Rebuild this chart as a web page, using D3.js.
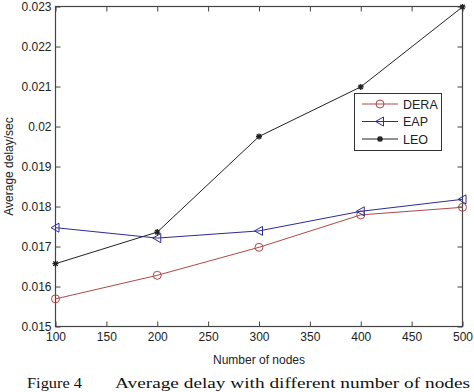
<!DOCTYPE html>
<html><head><meta charset="utf-8">
<script src="https://cdn.jsdelivr.net/npm/d3@7"></script>
<style>body{margin:0;background:#fff}svg{display:block}</style>
</head><body>
<svg id="c" width="474" height="392"></svg>
<script>
const nodes = [100, 200, 300, 400, 500];
const dera = [0.01569, 0.01628, 0.01698, 0.01779, 0.01798];
const eap  = [0.01747, 0.01721, 0.01739, 0.01788, 0.01818];
const leo  = [0.01657, 0.01736, 0.01975, 0.02099, 0.02299];
const xTicks = [100, 150, 200, 250, 300, 350, 400, 450, 500];
const yTicks = [0.015, 0.016, 0.017, 0.018, 0.019, 0.02, 0.021, 0.022, 0.023];
const seriesNames = ["DERA", "EAP", "LEO"];
const xLabel = "Number of nodes";
const yLabel = "Average delay/sec";
const captionLead = "Figure 4";
const captionText = "Average delay with different number of nodes";

const svg = d3.select("#c");
const L = 55.5, R = 462.5, T = 6.5, B = 326.5;
const x = d3.scaleLinear().domain([100, 500]).range([L, R]);
const y = d3.scaleLinear().domain([0.015, 0.023]).range([B, T]);
const axisCol = "#444";
const font = "Arial, 'Liberation Sans', sans-serif";

function styleAxis(g, hideText) {
  g.select(".domain").remove();
  g.selectAll("line").attr("stroke", axisCol);
  g.selectAll("text").attr("fill", "#222").style("font-family", font).style("font-size", "12px");
  if (hideText) g.selectAll("text").remove();
}
const fmtY = d => d3.format(".3f")(d).replace(/0+$/, "").replace(/\.$/, "");
svg.append("g").attr("transform", `translate(0,${B})`)
  .call(d3.axisBottom(x).tickValues(xTicks).tickSize(-5).tickPadding(6)).call(g => styleAxis(g));
svg.append("g").attr("transform", `translate(0,${T})`)
  .call(d3.axisTop(x).tickValues(xTicks).tickSize(-5)).call(g => styleAxis(g, true));
svg.append("g").attr("transform", `translate(${L},0)`)
  .call(d3.axisLeft(y).tickValues(yTicks).tickSize(-5).tickPadding(4).tickFormat(fmtY)).call(g => styleAxis(g));
svg.append("g").attr("transform", `translate(${R},0)`)
  .call(d3.axisRight(y).tickValues(yTicks).tickSize(-5)).call(g => styleAxis(g, true));
svg.append("rect").attr("x", L).attr("y", T).attr("width", R - L).attr("height", B - T)
  .attr("fill", "none").attr("stroke", axisCol).attr("stroke-width", 1.2);

const colors = ["#b04848", "#2c2c94", "#222"];
const data = [dera, eap, leo];
const line = d3.line().x((d, i) => x(nodes[i])).y(d => y(d));

function marker(g, k, cx, cy) {
  const c = colors[k];
  if (k === 0) {
    g.append("circle").attr("cx", cx).attr("cy", cy).attr("r", 4).attr("fill", "none").attr("stroke", c).attr("stroke-width", 1);
  } else if (k === 1) {
    g.append("path").attr("d", `M${cx - 4.5},${cy} L${cx + 3.5},${cy - 4.5} L${cx + 3.5},${cy + 4.5} Z`)
      .attr("fill", "none").attr("stroke", c).attr("stroke-width", 1);
  } else {
    const s = 3;
    g.append("path").attr("d", `M${cx - s},${cy} L${cx + s},${cy} M${cx},${cy - s} L${cx},${cy + s} M${cx - 2.2},${cy - 2.2} L${cx + 2.2},${cy + 2.2} M${cx - 2.2},${cy + 2.2} L${cx + 2.2},${cy - 2.2}`)
      .attr("stroke", c).attr("stroke-width", 1.3);
  }
}

data.forEach((vals, k) => {
  svg.append("path").datum(vals).attr("d", line).attr("fill", "none").attr("stroke", colors[k]).attr("stroke-width", 1);
  const g = svg.append("g");
  vals.forEach((v, i) => marker(g, k, x(nodes[i]), y(v)));
});

// legend
const lg = svg.append("g");
lg.append("rect").attr("x", 354.5).attr("y", 93.5).attr("width", 87).attr("height", 57)
  .attr("fill", "#fff").attr("stroke", "#333").attr("stroke-width", 1);
seriesNames.forEach((n, k) => {
  const yy = 104 + k * 17.5;
  lg.append("line").attr("x1", 362).attr("x2", 398).attr("y1", yy).attr("y2", yy).attr("stroke", colors[k]).attr("stroke-width", 1);
  marker(lg, k, 380, yy);
  lg.append("text").attr("x", 403).attr("y", yy + 4.5).text(n).attr("fill", "#222")
    .style("font-family", font).style("font-size", "12.5px");
});

svg.append("text").attr("x", (L + R) / 2).attr("y", 364).attr("text-anchor", "middle").text(xLabel)
  .attr("fill", "#222").style("font-family", font).style("font-size", "12px");
svg.append("text").attr("transform", `translate(13,${(T + B) / 2}) rotate(-90)`).attr("text-anchor", "middle").text(yLabel)
  .attr("fill", "#222").style("font-family", font).style("font-size", "12px");
const capFont = "'Times New Roman', 'Liberation Serif', serif";
svg.append("text").attr("x", 27).attr("y", 388).text(captionLead)
  .attr("textLength", 55).attr("lengthAdjust", "spacingAndGlyphs")
  .attr("fill", "#111").style("font-family", capFont).style("font-size", "15px");
svg.append("text").attr("x", 115).attr("y", 388).text(captionText)
  .attr("textLength", 355).attr("lengthAdjust", "spacingAndGlyphs")
  .attr("fill", "#111").style("font-family", capFont).style("font-size", "15px");
</script>
</body></html>
